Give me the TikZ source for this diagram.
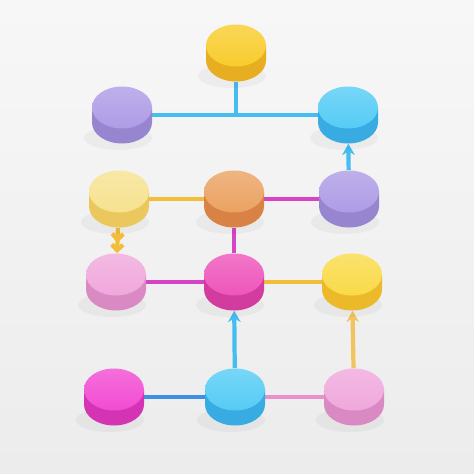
\documentclass[tikz,border=0pt]{standalone}
\usetikzlibrary{arrows.meta}

\pgfdeclarelayer{back}
\pgfdeclarelayer{wires}
\pgfsetlayers{back,wires,main}

\definecolor{bgtop}{HTML}{F7F7F7}
\definecolor{bgbot}{HTML}{ECECEC}
\definecolor{cyanline}{HTML}{45BDF0}
\definecolor{yellowline}{HTML}{F2BE3A}
\definecolor{magline}{HTML}{D444C4}
\definecolor{blueline}{HTML}{3F8FE6}
\definecolor{pinkline}{HTML}{EC90CC}
\definecolor{paleline}{HTML}{F2C460}

\definecolor{yeltop}{HTML}{F8CC2E}   \definecolor{yelside}{HTML}{E8AE22}
\definecolor{purtop}{HTML}{AE9CE6}   \definecolor{purside}{HTML}{9785CF}
\definecolor{blutop}{HTML}{55CCF5}   \definecolor{bluside}{HTML}{38ABE3}
\definecolor{lyeltop}{HTML}{F6E290}  \definecolor{lyelside}{HTML}{EAC85E}
\definecolor{oratop}{HTML}{EBA262}   \definecolor{oraside}{HTML}{D98245}
\definecolor{pinktop}{HTML}{F0A8DC}  \definecolor{pinkside}{HTML}{DA8AC3}
\definecolor{magtop}{HTML}{EE55BB}   \definecolor{magside}{HTML}{D23C9E}
\definecolor{goldtop}{HTML}{F9DA48}  \definecolor{goldside}{HTML}{ECB92A}
\definecolor{fuchtop}{HTML}{F24BD2}  \definecolor{fuchside}{HTML}{D434B3}

\tikzset{
    discbox/.style={rectangle, minimum width=1.5cm, minimum height=1.425cm,
        inner sep=0pt, draw=none},
    wire/.style={line width=3pt, color=#1},
    arrowwire/.style={wire=#1, -{Stealth[length=8pt,width=9pt]}}
}

% name, position, top colour, side colour
\newcommand{\disc}[4]{
    \node[discbox] (#1) at (#2) {};
    \fill[black, opacity=0.035] (#1.center) ++(-4,-23) ellipse [x radius=34, y radius=12];
    \fill[#4] (#1.center) ++(-30,7.5) -- ++(0,-15)
        arc[start angle=180, end angle=360, x radius=30, y radius=21] -- ++(0,15) -- cycle;
    \shade[top color=#3!80!white, bottom color=#3] (#1.center) ++(0,7.5) ellipse [x radius=30, y radius=21];
}

\begin{document}
\begin{tikzpicture}[x=0.025cm, y=0.025cm]

    \useasboundingbox (0, 0) rectangle (474, -474);
    \begin{pgfonlayer}{back}
        \shade[top color=bgtop, bottom color=bgbot] (0, 0) rectangle (474, -474);
    \end{pgfonlayer}

    % row 1
    \disc{yel}{236, -53}{yeltop}{yelside}
    \disc{pur}{122, -115}{purtop}{purside}
    \disc{blu}{348, -115}{blutop}{bluside}

    % row 2
    \disc{lyel}{119, -199}{lyeltop}{lyelside}
    \disc{ora}{234, -199}{oratop}{oraside}
    \disc{pur2}{349, -199}{purtop}{purside}

    % row 3
    \disc{pink}{116, -282}{pinktop}{pinkside}
    \disc{mag}{234, -282}{magtop}{magside}
    \disc{gold}{352, -282}{goldtop}{goldside}

    % row 4
    \disc{fuch}{114, -397}{fuchtop}{fuchside}
    \disc{blu4}{235, -397}{blutop}{bluside}
    \disc{pink4}{354, -397}{pinktop}{pinkside}

    \begin{pgfonlayer}{wires}
        \draw[wire=cyanline] (pur) -- (blu);
        \draw[wire=cyanline] (yel) -- (yel |- pur);
        \draw[arrowwire=cyanline] (pur2) -- (blu);

        \draw[wire=yellowline] (lyel) -- (ora);
        \draw[wire=magline] (ora) -- (pur2);
        \draw[wire=yellowline, -{Straight Barb[length=4pt,width=8pt] Straight Barb[length=4pt,width=8pt]}] (lyel) -- (pink);
        \draw[wire=magline] (ora) -- (mag);

        \draw[wire=magline] (pink) -- (mag);
        \draw[wire=yellowline] (mag) -- (gold);
        \draw[arrowwire=cyanline] (blu4) -- (mag);
        \draw[arrowwire=paleline] (pink4) -- (gold);

        \draw[wire=blueline] (fuch) -- (blu4);
        \draw[wire=pinkline] (blu4) -- (pink4);
    \end{pgfonlayer}

\end{tikzpicture}
\end{document}
